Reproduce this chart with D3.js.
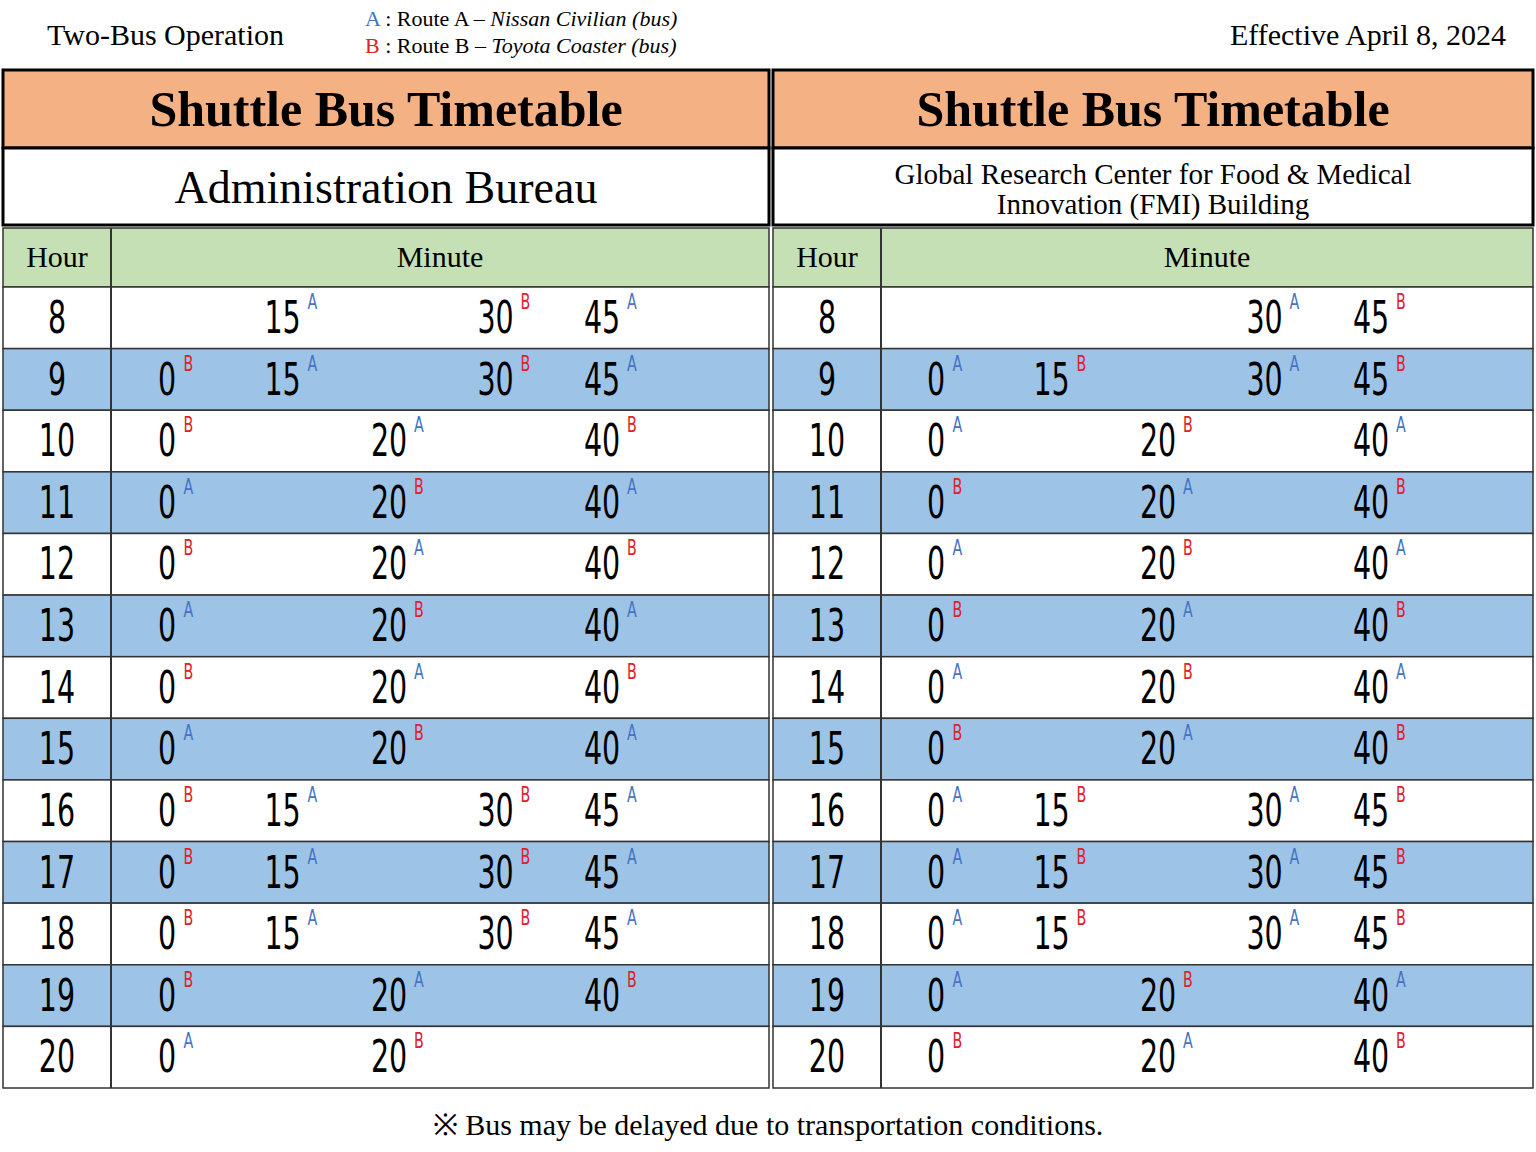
<!DOCTYPE html>
<html><head><meta charset="utf-8">
<script src="https://cdn.jsdelivr.net/npm/d3@7"></script>
<style>body{margin:0;background:#fff}</style>
</head><body>
<div class="TT"></div>
<script>
var hours=[8,9,10,11,12,13,14,15,16,17,18,19,20];
// departures per hour: minute + route letter
var adminTimes=["15A 30B 45A","0B 15A 30B 45A","0B 20A 40B","0A 20B 40A","0B 20A 40B","0A 20B 40A","0B 20A 40B","0A 20B 40A","0B 15A 30B 45A","0B 15A 30B 45A","0B 15A 30B 45A","0B 20A 40B","0A 20B"];
var fmiTimes=["30A 45B","0A 15B 30A 45B","0A 20B 40A","0B 20A 40B","0A 20B 40A","0B 20A 40B","0A 20B 40A","0B 20A 40B","0A 15B 30A 45B","0A 15B 30A 45B","0A 15B 30A 45B","0A 20B 40A","0B 20A 40B"];
var slots=["0","15","20","30","40"];
var routeColor={A:"#4472C4",B:"#E0202A"};

var width=1536, height=1152;
var svg=d3.select(".TT").append("svg").attr("width",width).attr("height",height);
var serif="'Liberation Serif','Times New Roman',serif";
var cond="'Liberation Sans Narrow','DejaVu Sans Condensed','Liberation Sans',sans-serif";

// top notes
svg.append("text").text("Two-Bus Operation").attr("x",47).attr("y",45)
  .attr("font-family",serif).attr("font-size",30);
svg.append("text").text("Effective April 8, 2024").attr("x",1506).attr("y",45)
  .attr("text-anchor","end").attr("font-family",serif).attr("font-size",30);
[["A","Route A","Nissan Civilian (bus)",26],["B","Route B","Toyota Coaster (bus)",53]].forEach(function(l){
  var t=svg.append("text").attr("x",365).attr("y",l[3]).attr("font-family",serif).attr("font-size",22);
  t.append("tspan").text(l[0]).attr("fill",routeColor[l[0]]);
  t.append("tspan").text(" : "+l[1]+" – ");
  t.append("tspan").text(l[2]).attr("font-style","italic");
});

var yScale=d3.scaleBand().domain(hours).range([287,1088]);

function drawPanel(x0,x1,title,times,off){
  var hourW=108;
  var g=svg.append("g");
  g.append("rect").attr("x",x0).attr("y",70).attr("width",x1-x0).attr("height",78)
    .attr("fill","#F4B183").attr("stroke","#000").attr("stroke-width",3);
  g.append("text").text("Shuttle Bus Timetable").attr("x",(x0+x1)/2).attr("y",126)
    .attr("text-anchor","middle").attr("font-family",serif).attr("font-weight","bold").attr("font-size",50);
  g.append("rect").attr("x",x0).attr("y",148).attr("width",x1-x0).attr("height",77)
    .attr("fill","#fff").attr("stroke","#000").attr("stroke-width",3);
  title.forEach(function(s,i){
    g.append("text").text(s).attr("x",(x0+x1)/2).attr("y",title.length==1?203:184+i*30)
      .attr("text-anchor","middle").attr("font-family",serif).attr("font-size",title.length==1?46:29);
  });
  g.append("rect").attr("x",x0).attr("y",228).attr("width",x1-x0).attr("height",59)
    .attr("fill","#C5E0B4").attr("stroke","#333").attr("stroke-width",1.5);
  g.append("line").attr("x1",x0+hourW).attr("x2",x0+hourW).attr("y1",228).attr("y2",1088).attr("stroke","#333").attr("stroke-width",2);
  g.append("text").text("Hour").attr("x",x0+hourW/2).attr("y",267).attr("text-anchor","middle")
    .attr("font-family",serif).attr("font-size",30);
  g.append("text").text("Minute").attr("x",(x0+hourW+x1)/2).attr("y",267).attr("text-anchor","middle")
    .attr("font-family",serif).attr("font-size",30);

  var rows=g.selectAll("g.row").data(hours).enter().append("g").attr("class","row");
  rows.append("rect").attr("x",x0).attr("y",function(d){return yScale(d)})
    .attr("width",x1-x0).attr("height",yScale.bandwidth())
    .attr("fill",function(d,i){return i%2?"#9DC3E6":"#fff"}).attr("stroke","#333").attr("stroke-width",1.5);
  g.append("line").attr("x1",x0+hourW).attr("x2",x0+hourW).attr("y1",228).attr("y2",1088).attr("stroke","#333").attr("stroke-width",2);

  var xScale=d3.scalePoint().domain(slots).range([158+off,584+off]);
  rows.each(function(h,i){
    var r=d3.select(this), yb=yScale(h)+46;
    var cx=x0+hourW/2;
    r.append("text").text(h).attr("transform","translate("+cx+","+yb+") scale(0.72,1)")
      .attr("text-anchor","middle").attr("font-family",cond).attr("font-size",44);
    times[i].split(" ").forEach(function(t){
      var m=t.slice(0,-1), rt=t.slice(-1);
      var x=xScale(m=="45"?"40":m);
      r.append("text").text(m).attr("transform","translate("+x+","+yb+") scale(0.72,1)")
        .attr("font-family",cond).attr("font-size",44);
      var w=m.length*17.5;
      r.append("text").text(rt).attr("transform","translate("+(x+w+8)+","+(yb-24)+") scale(0.72,1)")
        .attr("fill",routeColor[rt]).attr("font-family",cond).attr("font-size",22);
    });
  });
}

drawPanel(3,769,["Administration Bureau"],adminTimes,0);
drawPanel(773,1533,["Global Research Center for Food & Medical","Innovation (FMI) Building"],fmiTimes,769);

svg.append("text").text("※ Bus may be delayed due to transportation conditions.")
  .attr("x",768).attr("y",1135).attr("text-anchor","middle").attr("font-family",serif).attr("font-size",30);
</script>
</body></html>
